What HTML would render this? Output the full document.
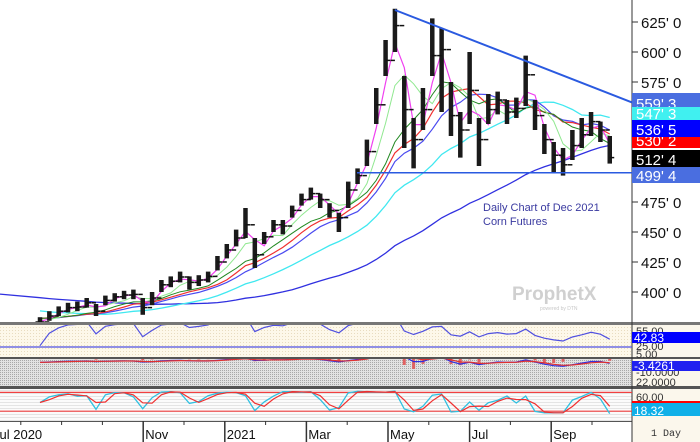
<!DOCTYPE html>
<html><head><meta charset="utf-8"><style>
html,body{margin:0;padding:0;background:#fff;}
svg{display:block;font-family:"Liberation Sans",sans-serif;}
</style></head><body>
<svg id="c" width="700" height="442" viewBox="0 0 700 442">
<defs>
<pattern id="dotA" width="3" height="3" patternUnits="userSpaceOnUse"><rect width="3" height="3" fill="#fdf8ea"/><rect width="1" height="1" fill="#e8dcc0"/></pattern>
<pattern id="dotB" width="2" height="2" patternUnits="userSpaceOnUse"><rect width="2" height="2" fill="#e2e2e2"/><rect width="1" height="1" fill="#a8a8a8"/></pattern>
<pattern id="lineC" width="4" height="3" patternUnits="userSpaceOnUse"><rect width="4" height="3" fill="#fbfbfb"/><rect width="4" height="1" fill="#e4e4e4"/></pattern>
<clipPath id="cpMain"><rect x="0" y="0" width="632" height="322"/></clipPath>
<clipPath id="cp2"><rect x="0" y="325" width="632" height="32"/></clipPath>
<clipPath id="cp3"><rect x="0" y="359" width="632" height="27"/></clipPath>
<clipPath id="cp4"><rect x="0" y="389" width="632" height="32"/></clipPath>
</defs>
<rect x="0" y="0" width="700" height="442" fill="#fff"/>
<rect x="0" y="325" width="632" height="32" fill="url(#dotA)"/>
<rect x="0" y="359" width="632" height="27" fill="url(#dotB)"/>
<rect x="0" y="389" width="632" height="32" fill="url(#lineC)"/>
<rect x="632" y="325" width="68" height="117" fill="#fbf7ec"/>
<rect x="0" y="322" width="700" height="3" fill="#777"/>
<rect x="0" y="357" width="700" height="2" fill="#555"/>
<rect x="0" y="386" width="700" height="3" fill="#555"/>
<rect x="0" y="421" width="632" height="1" fill="#555"/>
<line x1="632" y1="0" x2="632" y2="442" stroke="#333" stroke-width="1"/>
<g>
<text x="512" y="300" font-size="19" font-weight="bold" fill="#d0d0d0">ProphetX</text>
<text x="540" y="310" font-size="5" fill="#c8c8c8">powered by DTN</text>
</g>
<g id="main" clip-path="url(#cpMain)"></g>
<g id="p2" clip-path="url(#cp2)"></g>
<g id="p3" clip-path="url(#cp3)"></g>
<g id="p4" clip-path="url(#cp4)"></g>
<g id="axis"></g>
<text x="483" y="211" font-size="11" fill="#3a3aa0">Daily Chart of Dec 2021</text>
<text x="483" y="225" font-size="11" fill="#3a3aa0">Corn Futures</text>
<text x="651" y="436" font-size="10" font-family="Liberation Mono, monospace" fill="#333">1 Day</text>
</svg>
<script>
const closes=[375,380,384,387,387.5,391,384,393,396,397.5,398,387,395,406,409,412.5,408,410,413,425,435,445,456,431,446,456,455,468,477,482,477,468,462,485,497,517,556,593,622,552,527,552,597,602,547,535,568,527,552,560,550,553,581,547,527,514,506,522,531,542,535,512];
const highs=[379,384,388,391,392,395,390,397,399,401,402,395,400,410,413,417,413,414,417,430,440,452,470,445,450,460,460,472,482,487,482,474,466,492,503,527,570,610,636,580,545,570,628,620,575,550,600,545,565,567,560,562,597,560,540,525,520,535,545,550,542,530];
const lows=[371,376,380,383,384,387,380,389,392,394,394,381,389,400,404,408,402,405,408,418,428,438,445,420,440,450,448,462,472,477,470,462,450,470,490,505,540,580,600,520,503,535,580,550,530,512,540,505,540,548,540,545,555,535,515,500,497,510,520,530,525,507];
const priorCloses=[410,410,412,408,410,411,409,410,407,408,406,405,404,405,403,404,405,402,404,405,398,396,395,394,396,395,393,394,384,380,378,376,378,380,379,381,380,378,377,376];
const priceTicks=[625,600,575,475,450,425,400];
const monthLabels=["Jul 2020","Aug","Sep","Oct","Nov","Dec","2021","Feb","Mar","Apr","May","Jun","Jul","Aug","Sep","Oct"];
const shownMonthIdx=[0,4,6,8,10,12,14];
const resistanceEnds=[635,558];
const supportLevel=[499.4];

const NS="http://www.w3.org/2000/svg";
function mk(tag,attrs,parent){const e=document.createElementNS(NS,tag);for(const k in attrs)e.setAttribute(k,attrs[k]);parent.appendChild(e);return e;}
const xS=i=>40+i*9.34;
const yS=p=>22+(625-p)*1.2;
const monthX=m=>-20+m*40.8;
const main=document.getElementById('main');
const all=priorCloses.concat(closes);
const off=priorCloses.length;
function sma(n){return closes.map((c,i)=>{let s=0;for(let k=0;k<n;k++)s+=all[off+i-k];return s/n;});}
function ema(arr,n){const a=2/(n+1);let e=arr[0];return arr.map(v=>e=e+a*(v-e));}
function path(vals,xf,yf){return vals.map((v,i)=>(i?'L':'M')+xf(i).toFixed(1)+' '+yf(v).toFixed(1)).join(' ');}
const maDefs=[[40,'#3030e0',1.3,'ma-200'],[20,'#40e8f0',1.3,'ma-100'],[12,'#4a4af0',1.2,'ma-60'],[10,'#f03030',1.2,'ma-50'],[8,'#208820',1,'ma-40'],[4,'#90e890',1,'ma-18'],[2,'#f040f0',1.2,'ma-9']];
maDefs.forEach(d=>{
const p=mk('path',{d:path(sma(d[0]),xS,yS),fill:'none',stroke:d[1],'stroke-width':d[2]},main);


});
const l200=mk('path',{d:'M0 '+yS(sma(40)[0]+3).toFixed(1)+' L40 '+yS(sma(40)[0]).toFixed(1),fill:'none',stroke:'#3030e0','stroke-width':1.3},main);


closes.forEach((c,i)=>{
const x=xS(i);
const b=mk('line',{x1:x,x2:x,y1:yS(highs[i]),y2:yS(lows[i]),stroke:'#1a1a1a','stroke-width':4.5},main);


const o=i?closes[i-1]:c;
const ot=mk('line',{x1:x-4.5,x2:x,y1:yS(o),y2:yS(o),stroke:'#111','stroke-width':1.5},main);


const ct=mk('line',{x1:x,x2:x+4.5,y1:yS(c),y2:yS(c),stroke:'#111','stroke-width':1.5},main);


});
const tl=mk('line',{x1:xS(38),y1:yS(resistanceEnds[0]),x2:632,y2:yS(resistanceEnds[1]),stroke:'#2a5ae0','stroke-width':2},main);


const hl=mk('line',{x1:357,y1:yS(supportLevel[0]),x2:632,y2:yS(supportLevel[0]),stroke:'#2a5ae0','stroke-width':1.5},main);



const p2=document.getElementById('p2');
function rsi(n){const out=[];let g=0,l=0;for(let i=0;i<all.length;i++){if(i===0){out.push(50);continue;}const d=all[i]-all[i-1];const up=Math.max(d,0),dn=Math.max(-d,0);g=(g*(n-1)+up)/n;l=(l*(n-1)+dn)/n;out.push(l===0?100:100-100/(1+g/l));}return out.slice(off);}
const r=rsi(6);
const y2=v=>355-v*0.42;
const rl=mk('path',{d:path(r,xS,y2),fill:'none',stroke:'#5050e0','stroke-width':1.2},p2);


const rh=mk('line',{x1:0,x2:632,y1:347,y2:347,stroke:'#5050e0','stroke-width':1.2},p2);



const p3=document.getElementById('p3');
const e12=ema(all,3),e26=ema(all,6);
const macd=e12.map((v,i)=>v-e26[i]);
const sig=ema(macd,3);
const y3=v=>362-v*0.35;
macd.slice(off).forEach((v,i)=>{const h=v-sig[off+i];if(h<0){
const hb=mk('line',{x1:xS(i),x2:xS(i),y1:359,y2:Math.min(359-h*1.0,386),stroke:'#e06060','stroke-width':3},p3);

}});
const ml=mk('path',{d:path(macd.slice(off),xS,y3),fill:'none',stroke:'#3030e0','stroke-width':1.2},p3);


const sl=mk('path',{d:path(sig.slice(off),xS,y3),fill:'none',stroke:'#e03030','stroke-width':1.2},p3);



const p4=document.getElementById('p4');
const kv=closes.map((c,i)=>{let hi=-1e9,lo=1e9;for(let j=Math.max(0,i-3);j<=i;j++){hi=Math.max(hi,highs[j]);lo=Math.min(lo,lows[j]);}return hi===lo?50:(c-lo)/(hi-lo)*100;});
const dS=kv.map((v,i)=>(v+kv[Math.max(0,i-1)])/2);
const y4=v=>417-v*0.29;
[85,20].forEach(v=>{const ln=mk('line',{x1:0,x2:632,y1:y4(v),y2:y4(v),stroke:'#f04040','stroke-width':1.2},p4);

});
const kl=mk('path',{d:path(kv,xS,y4),fill:'none',stroke:'#30c0e0','stroke-width':1.3},p4);


const dl=mk('path',{d:path(dS,xS,y4),fill:'none',stroke:'#f03030','stroke-width':1.2},p4);



const ax=document.getElementById('axis');
priceTicks.forEach(p=>{const y=yS(p);
mk('line',{x1:632,x2:638,y1:y,y2:y,stroke:'#333'},ax);
const t=mk('text',{x:641,y:y+6,'font-size':15,fill:'#111'},ax);
t.textContent=p+"' 0";

});
const boxes=[[93,18,'#4a6ee0',"559' 3"],[107,14,'#40f0f0',"547' 3"],[137,11,'#ff0000',"530' 2"],[120,17,'#0000ff',"536' 5"],[150,17,'#000000',"512' 4"],[167,16,'#4a6ee0',"499' 4"]];
boxes.forEach(b=>{
const rr=mk('rect',{x:632,y:b[0],width:68,height:b[1],fill:b[2]},ax);


const t=mk('text',{x:636,y:b[0]+b[1]-2,'font-size':15,fill:'#fff'},ax);
t.textContent=b[3];

});
const indLabels=[[636,335,'55.00'],[636,350,'25.00'],[636,358,'5.00'],[636,376,'-10.0000'],[636,386,'22.0000'],[636,401,'60.00']];
indLabels.forEach(l=>{const t=mk('text',{x:l[0],y:l[1],'font-size':11,fill:'#333'},ax);t.textContent=l[2];

});
const indBoxes=[[332,11,'#0000ff','42.83'],[361,10,'#2020f0','-3.4261'],[403,13,'#10b0e8','18.32']];
indBoxes.forEach(b=>{const rr=mk('rect',{x:632,y:b[0],width:68,height:b[1],fill:b[2]},ax);


const t=mk('text',{x:634,y:b[0]+b[1]-1,'font-size':12,fill:'#fff'},ax);t.textContent=b[3];

});
const rline=mk('rect',{x:632,y:401,width:68,height:2,fill:'#f00'},ax);


monthLabels.forEach((m,i)=>{const x=monthX(i);const big=shownMonthIdx.includes(i);
mk('line',{x1:x,x2:x,y1:421,y2:big?442:425,stroke:'#333','stroke-width':big?1.5:1},ax);
if(big){const t=mk('text',{x:i===0?-7:x+2,y:439,'font-size':13,fill:'#111'},ax);
t.textContent=m;

}});
</script>
</body></html>
